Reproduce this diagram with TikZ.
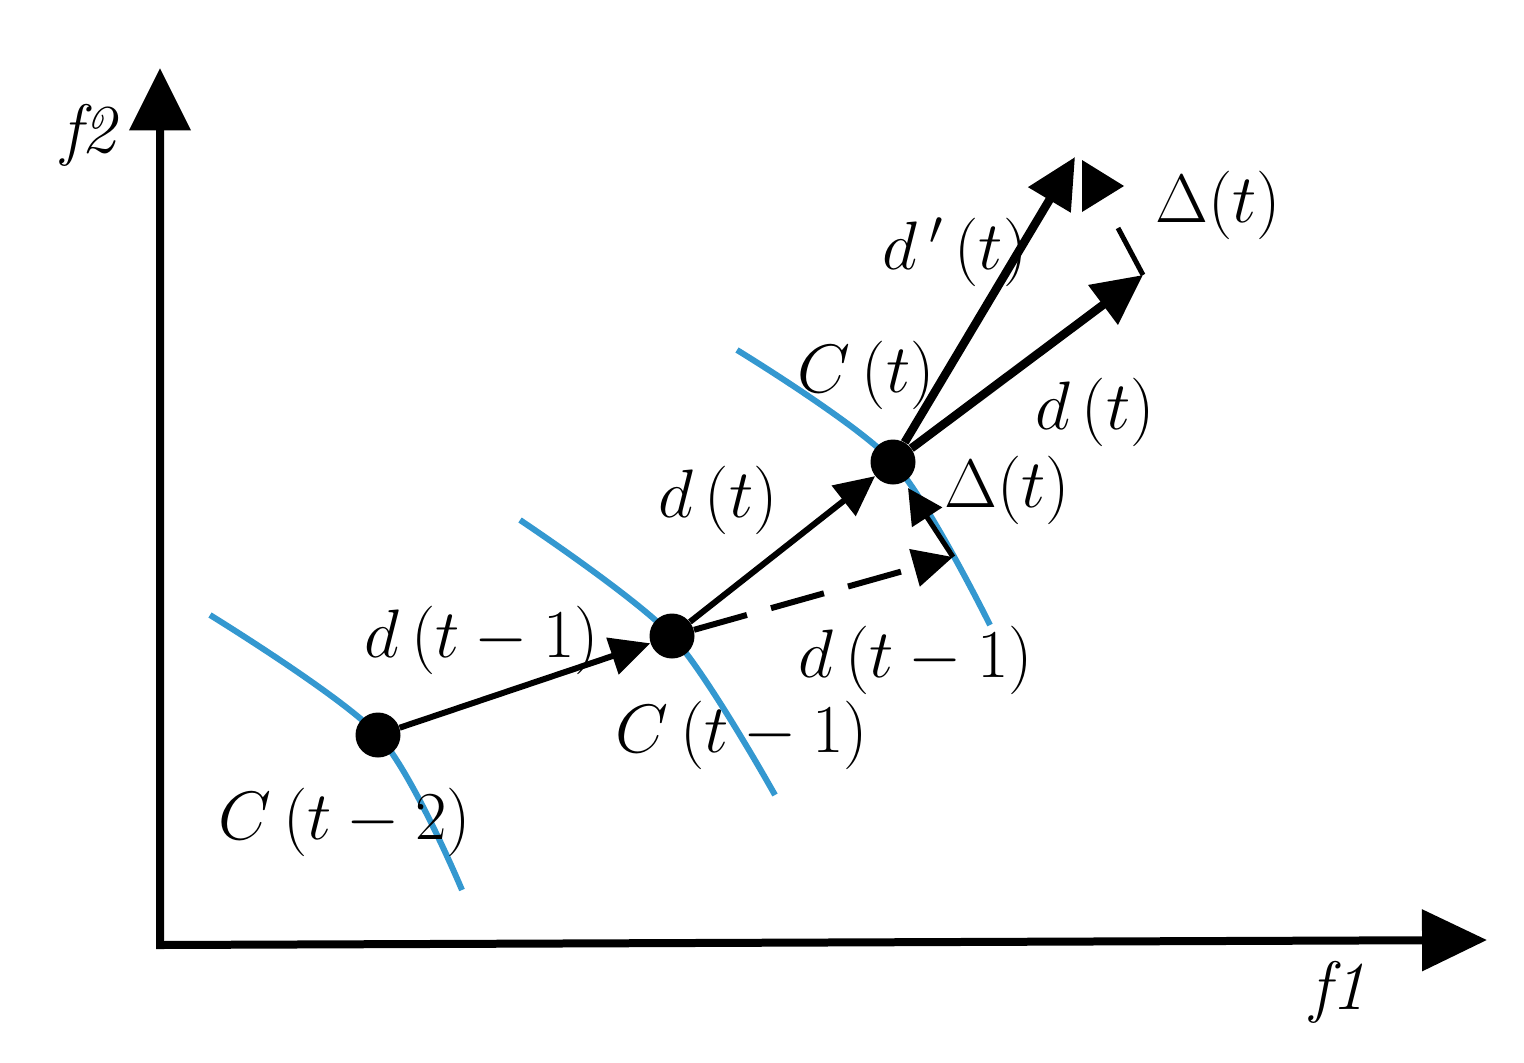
\documentclass[tikz,border=0pt]{standalone}
\usepackage{fix-cm}
\usepackage{fontspec}
\usetikzlibrary{arrows.meta}
\definecolor{frontblue}{RGB}{52,152,208}

\begin{document}
\begin{tikzpicture}[
		x=0.02cm, y=-0.02cm,
		axis/.style = {line width=0.16cm, line join=miter, {Triangle[length=1.25cm, width=1.2cm]}-{Triangle[length=1.3cm, width=1.2cm]}},
		front/.style = {frontblue, line width=0.12cm},
		dot/.style = {circle, fill, inner sep=0pt, minimum size=0.9cm},
		vec/.style = {line width=0.12cm, -{Triangle[length=0.8cm, width=0.75cm]}},
		bigvec/.style = {line width=0.17cm, -{Triangle[length=1.0cm, width=0.95cm]}},
		lab/.style = {inner sep=0pt, font=\fontsize{39}{42}\selectfont}
	]
	\useasboundingbox (0,0) rectangle (1524,1062);
	% axes
	\coordinate (ytop) at (160,68);
	\coordinate (o) at (160,945);
	\coordinate (xend) at (1487,940);
	\draw[axis] (ytop) -- (o) -- (xend);
	\node[lab] (lf2) at (90,135) {\textit{f2}};
	\node[lab] (lf1) at (1338,992) {\textit{f1}};
	% fronts
	\draw[front] plot[smooth] coordinates {(210,615) (378,735) (462,890)};
	\draw[front] plot[smooth] coordinates {(520,520) (672,636) (775,795)};
	\draw[front] plot[smooth] coordinates {(737,350) (893,462) (990,625)};
	% centroids
	\node[dot] (c2) at (378,735) {};
	\node[dot] (c1) at (672,636) {};
	\node[dot] (c0) at (893,462) {};
	\coordinate (pred) at (953,557);
	\coordinate (corr) at (908,488);
	\coordinate (dt) at (1143,275);
	\coordinate (dpt) at (1075,157);
	\coordinate (dlt) at (1118,228);
	% moves
	\draw[vec] (c2) -- (c1);
	\draw[vec] (c1) -- (c0);
	\draw[vec, dash pattern=on 1.1cm off 0.5cm] (c1) -- (pred);
	\draw[line width=0.1cm, -{Triangle[length=0.7cm, width=0.7cm]}] (pred) -- (corr);
	\draw[bigvec] (c0) -- (dt);
	\draw[bigvec] (c0) -- (dpt);
	\draw[line width=0.1cm] (dt) -- (dlt);
	\fill (1082,160) -- (1082,212) -- (1124,186) -- cycle;
	% labels
	\node[lab] (lc2) at (345,822) {$C\,(t-2)$};
	\node[lab] (lc1) at (742,735) {$C\,(t-1)$};
	\node[lab] (lc0) at (866,375) {$C\,(t)$};
	\node[lab] (ld2) at (482,640) {$d\,(t-1)$};
	\node[lab] (ld1) at (916,660) {$d\,(t-1)$};
	\node[lab] (ldm) at (718,500) {$d\,(t)$};
	\node[lab] (ldt) at (1095,412) {$d\,(t)$};
	\node[lab] (ldp) at (955,252) {$d\,'\,(t)$};
	\node[lab] (ldl) at (1007,490) {$\Delta(t)$};
	\node[lab] (ldu) at (1218,205) {$\Delta(t)$};
\end{tikzpicture}
\end{document}
